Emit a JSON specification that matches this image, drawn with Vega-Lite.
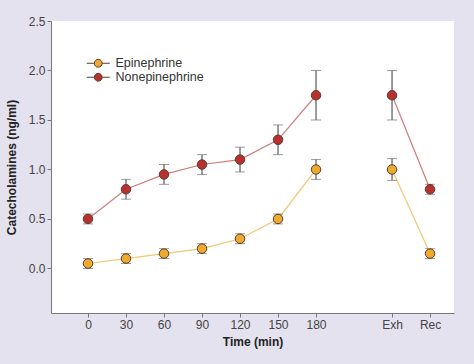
{
  "$schema": "https://vega.github.io/schema/vega-lite/v6.json",
  "width": 403,
  "height": 292,
  "autosize": {"type": "none"},
  "padding": {"left": 51, "top": 21, "right": 20, "bottom": 51},
  "background": "#e4e2ee",
  "view": {"fill": "white", "stroke": null},
  "config": {
    "font": "Liberation Sans",
    "axis": {"labelFont": "Liberation Sans", "titleFont": "Liberation Sans", "labelFontSize": 12, "labelColor": "#444", "titleColor": "#222", "titleFontSize": 12, "titleFontWeight": "bold", "domainColor": "#777", "tickColor": "#777", "grid": false, "tickSize": 4}
  },
  "resolve": {"legend": {"color": "independent", "stroke": "independent"}, "scale": {"color": "independent", "stroke": "independent"}},
  "data": {"values": [
    {"series": "Epinephrine", "t": 0, "mean": 0.05, "lo": 0.0, "hi": 0.1, "phase": "a"},
    {"series": "Epinephrine", "t": 30, "mean": 0.10, "lo": 0.05, "hi": 0.15, "phase": "a"},
    {"series": "Epinephrine", "t": 60, "mean": 0.15, "lo": 0.10, "hi": 0.20, "phase": "a"},
    {"series": "Epinephrine", "t": 90, "mean": 0.20, "lo": 0.15, "hi": 0.25, "phase": "a"},
    {"series": "Epinephrine", "t": 120, "mean": 0.30, "lo": 0.25, "hi": 0.35, "phase": "a"},
    {"series": "Epinephrine", "t": 150, "mean": 0.50, "lo": 0.45, "hi": 0.55, "phase": "a"},
    {"series": "Epinephrine", "t": 180, "mean": 1.00, "lo": 0.90, "hi": 1.10, "phase": "a"},
    {"series": "Epinephrine", "t": 240, "mean": 1.00, "lo": 0.89, "hi": 1.11, "phase": "b"},
    {"series": "Epinephrine", "t": 270, "mean": 0.15, "lo": 0.10, "hi": 0.20, "phase": "b"},
    {"series": "Nonepinephrine", "t": 0, "mean": 0.50, "lo": 0.45, "hi": 0.55, "phase": "a"},
    {"series": "Nonepinephrine", "t": 30, "mean": 0.80, "lo": 0.70, "hi": 0.90, "phase": "a"},
    {"series": "Nonepinephrine", "t": 60, "mean": 0.95, "lo": 0.85, "hi": 1.05, "phase": "a"},
    {"series": "Nonepinephrine", "t": 90, "mean": 1.05, "lo": 0.95, "hi": 1.15, "phase": "a"},
    {"series": "Nonepinephrine", "t": 120, "mean": 1.10, "lo": 0.975, "hi": 1.225, "phase": "a"},
    {"series": "Nonepinephrine", "t": 150, "mean": 1.30, "lo": 1.15, "hi": 1.45, "phase": "a"},
    {"series": "Nonepinephrine", "t": 180, "mean": 1.75, "lo": 1.50, "hi": 2.00, "phase": "a"},
    {"series": "Nonepinephrine", "t": 240, "mean": 1.75, "lo": 1.50, "hi": 2.00, "phase": "b"},
    {"series": "Nonepinephrine", "t": 270, "mean": 0.80, "lo": 0.75, "hi": 0.85, "phase": "b"}
  ]},
  "encoding": {
    "x": {"field": "t", "type": "quantitative", "scale": {"domain": [-29.2, 288.9], "nice": false, "zero": false},
      "axis": {"title": "Time (min)", "values": [0, 30, 60, 90, 120, 150, 180, 240, 270], "labelExpr": "datum.value == 240 ? 'Exh' : datum.value == 270 ? 'Rec' : datum.label", "titlePadding": 6}}
  },
  "layer": [
    {
      "mark": {"type": "line", "strokeWidth": 1.2},
      "encoding": {
        "y": {"field": "mean", "type": "quantitative", "title": "Catecholamines (ng/ml)"},
        "stroke": {"field": "series", "type": "nominal", "legend": null,
          "scale": {"domain": ["Epinephrine", "Nonepinephrine"], "range": ["#f4c66f", "#cf7c79"]}},
        "detail": {"field": "phase"}
      }
    },
    {
      "mark": {"type": "errorbar", "ticks": {"size": 10, "color": "#6f6f6f", "strokeWidth": 1.5}, "rule": {"color": "#7a7a7a", "strokeWidth": 1.5}},
      "encoding": {
        "y": {"field": "lo", "type": "quantitative", "title": "Catecholamines (ng/ml)"},
        "y2": {"field": "hi"},
        "detail": {"field": "series"}
      }
    },
    {
      "mark": {"type": "point", "filled": true, "size": 90, "stroke": "#5a3a30", "strokeWidth": 1, "opacity": 1},
      "encoding": {
        "y": {"field": "mean", "type": "quantitative", "scale": {"domain": [-0.45, 2.5], "nice": false},
          "axis": {"title": "Catecholamines (ng/ml)", "values": [0, 0.5, 1, 1.5, 2, 2.5], "format": ".1f", "titlePadding": 10}},
        "color": {"field": "series", "type": "nominal", "title": null,
          "scale": {"domain": ["Epinephrine", "Nonepinephrine"], "range": ["#eeaa2c", "#b8312e"]},
          "legend": {"orient": "none", "legendX": 41, "legendY": 36, "labelFontSize": 12.5, "labelColor": "#333", "labelFont": "Liberation Sans", "symbolType": "M-2.2,0H-0.75 M0.75,0H2.2 M0.75,0A0.75,0.75 0 1 1 -0.75,0A0.75,0.75 0 1 1 0.75,0Z", "symbolSize": 110, "symbolStrokeWidth": 1, "rowPadding": 1, "labelOffset": 11,
            "encode": {"symbols": {"update": {"opacity": {"value": 1}, "fillOpacity": {"value": 1}, "strokeOpacity": {"value": 0.75}}}}}
        }
      }
    }
  ]
}
